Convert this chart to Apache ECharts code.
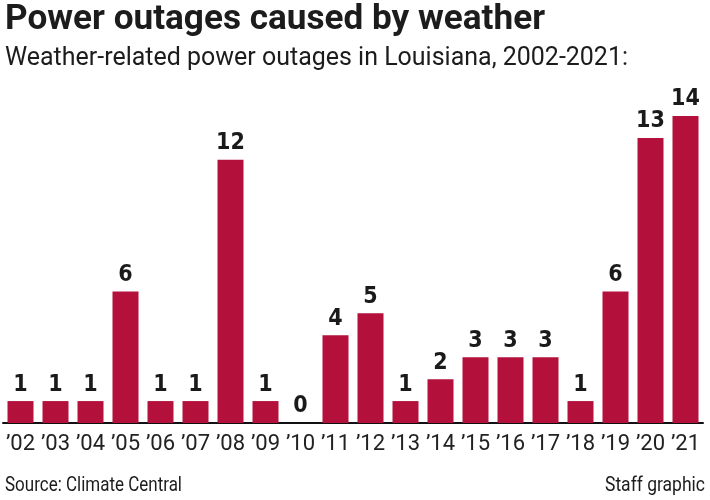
<!DOCTYPE html>
<html>
<head>
<meta charset="utf-8">
<script src="https://cdn.jsdelivr.net/npm/echarts@6/dist/echarts.min.js"></script>
<style>
html,body{margin:0;padding:0;background:#fff;}
#chart{width:710px;height:500px;}
</style>
</head>
<body>
<div id="chart"></div>
<script>
const categories = ["’02","’03","’04","’05","’06","’07","’08","’09","’10","’11","’12","’13","’14","’15","’16","’17","’18","’19","’20","’21"];
const outages = [1,1,1,6,1,1,12,1,0,4,5,1,2,3,3,3,1,6,13,14];
const titleText = "Power outages caused by weather";
const subtitleText = "Weather-related power outages in Louisiana, 2002-2021:";
const sourceText = "Source: Climate Central";
const creditText = "Staff graphic";

const ctx = document.createElement('canvas').getContext('2d');
function fitScale(text, font, width) {
  ctx.font = font;
  return width / ctx.measureText(text).width;
}
function condensedText(text, font, x, y, width, align) {
  const s = fitScale(text, font, width);
  return {
    type: 'text', x: x, y: y, scaleX: s, scaleY: 1, silent: true,
    style: {text: text, font: font, fill: '#1c1c1c', textAlign: align || 'left', textVerticalAlign: 'top'}
  };
}

const titleFont = 'bold 35px Roboto, "DejaVu Sans", sans-serif';
const subFont = '25px Roboto, "DejaVu Sans", sans-serif';
const footFont = '21px Roboto, "DejaVu Sans", sans-serif';

const chart = echarts.init(document.getElementById('chart'));
chart.setOption({
  animation: false,
  backgroundColor: '#ffffff',
  graphic: [
    condensedText(titleText, titleFont, 5, 2.5, 540),
    condensedText(subtitleText, subFont, 5, 46.5, 623),
    condensedText(sourceText, footFont, 5, 475, 177),
    condensedText(creditText, footFont, 705, 475, 100, 'right')
  ],
  grid: {left: 3, right: 7, top: 116, bottom: 77, containLabel: false},
  xAxis: {
    type: 'category',
    data: categories,
    axisLine: {lineStyle: {color: '#111', width: 2}},
    axisTick: {show: false},
    axisLabel: {fontFamily: 'Roboto, sans-serif', fontSize: 22, color: '#222', margin: 10, interval: 0}
  },
  yAxis: {
    type: 'value', min: 0, max: 14, show: false, splitLine: {show: false}
  },
  series: [{
    type: 'bar',
    data: outages,
    barWidth: 26,
    itemStyle: {color: '#b3103b'},
    label: {show: true, position: 'top', distance: 5, fontFamily: '"DejaVu Sans Condensed", "DejaVu Sans", sans-serif', fontWeight: 'bold', fontSize: 23, color: '#1a1a1a'}
  }]
});
</script>
</body>
</html>
